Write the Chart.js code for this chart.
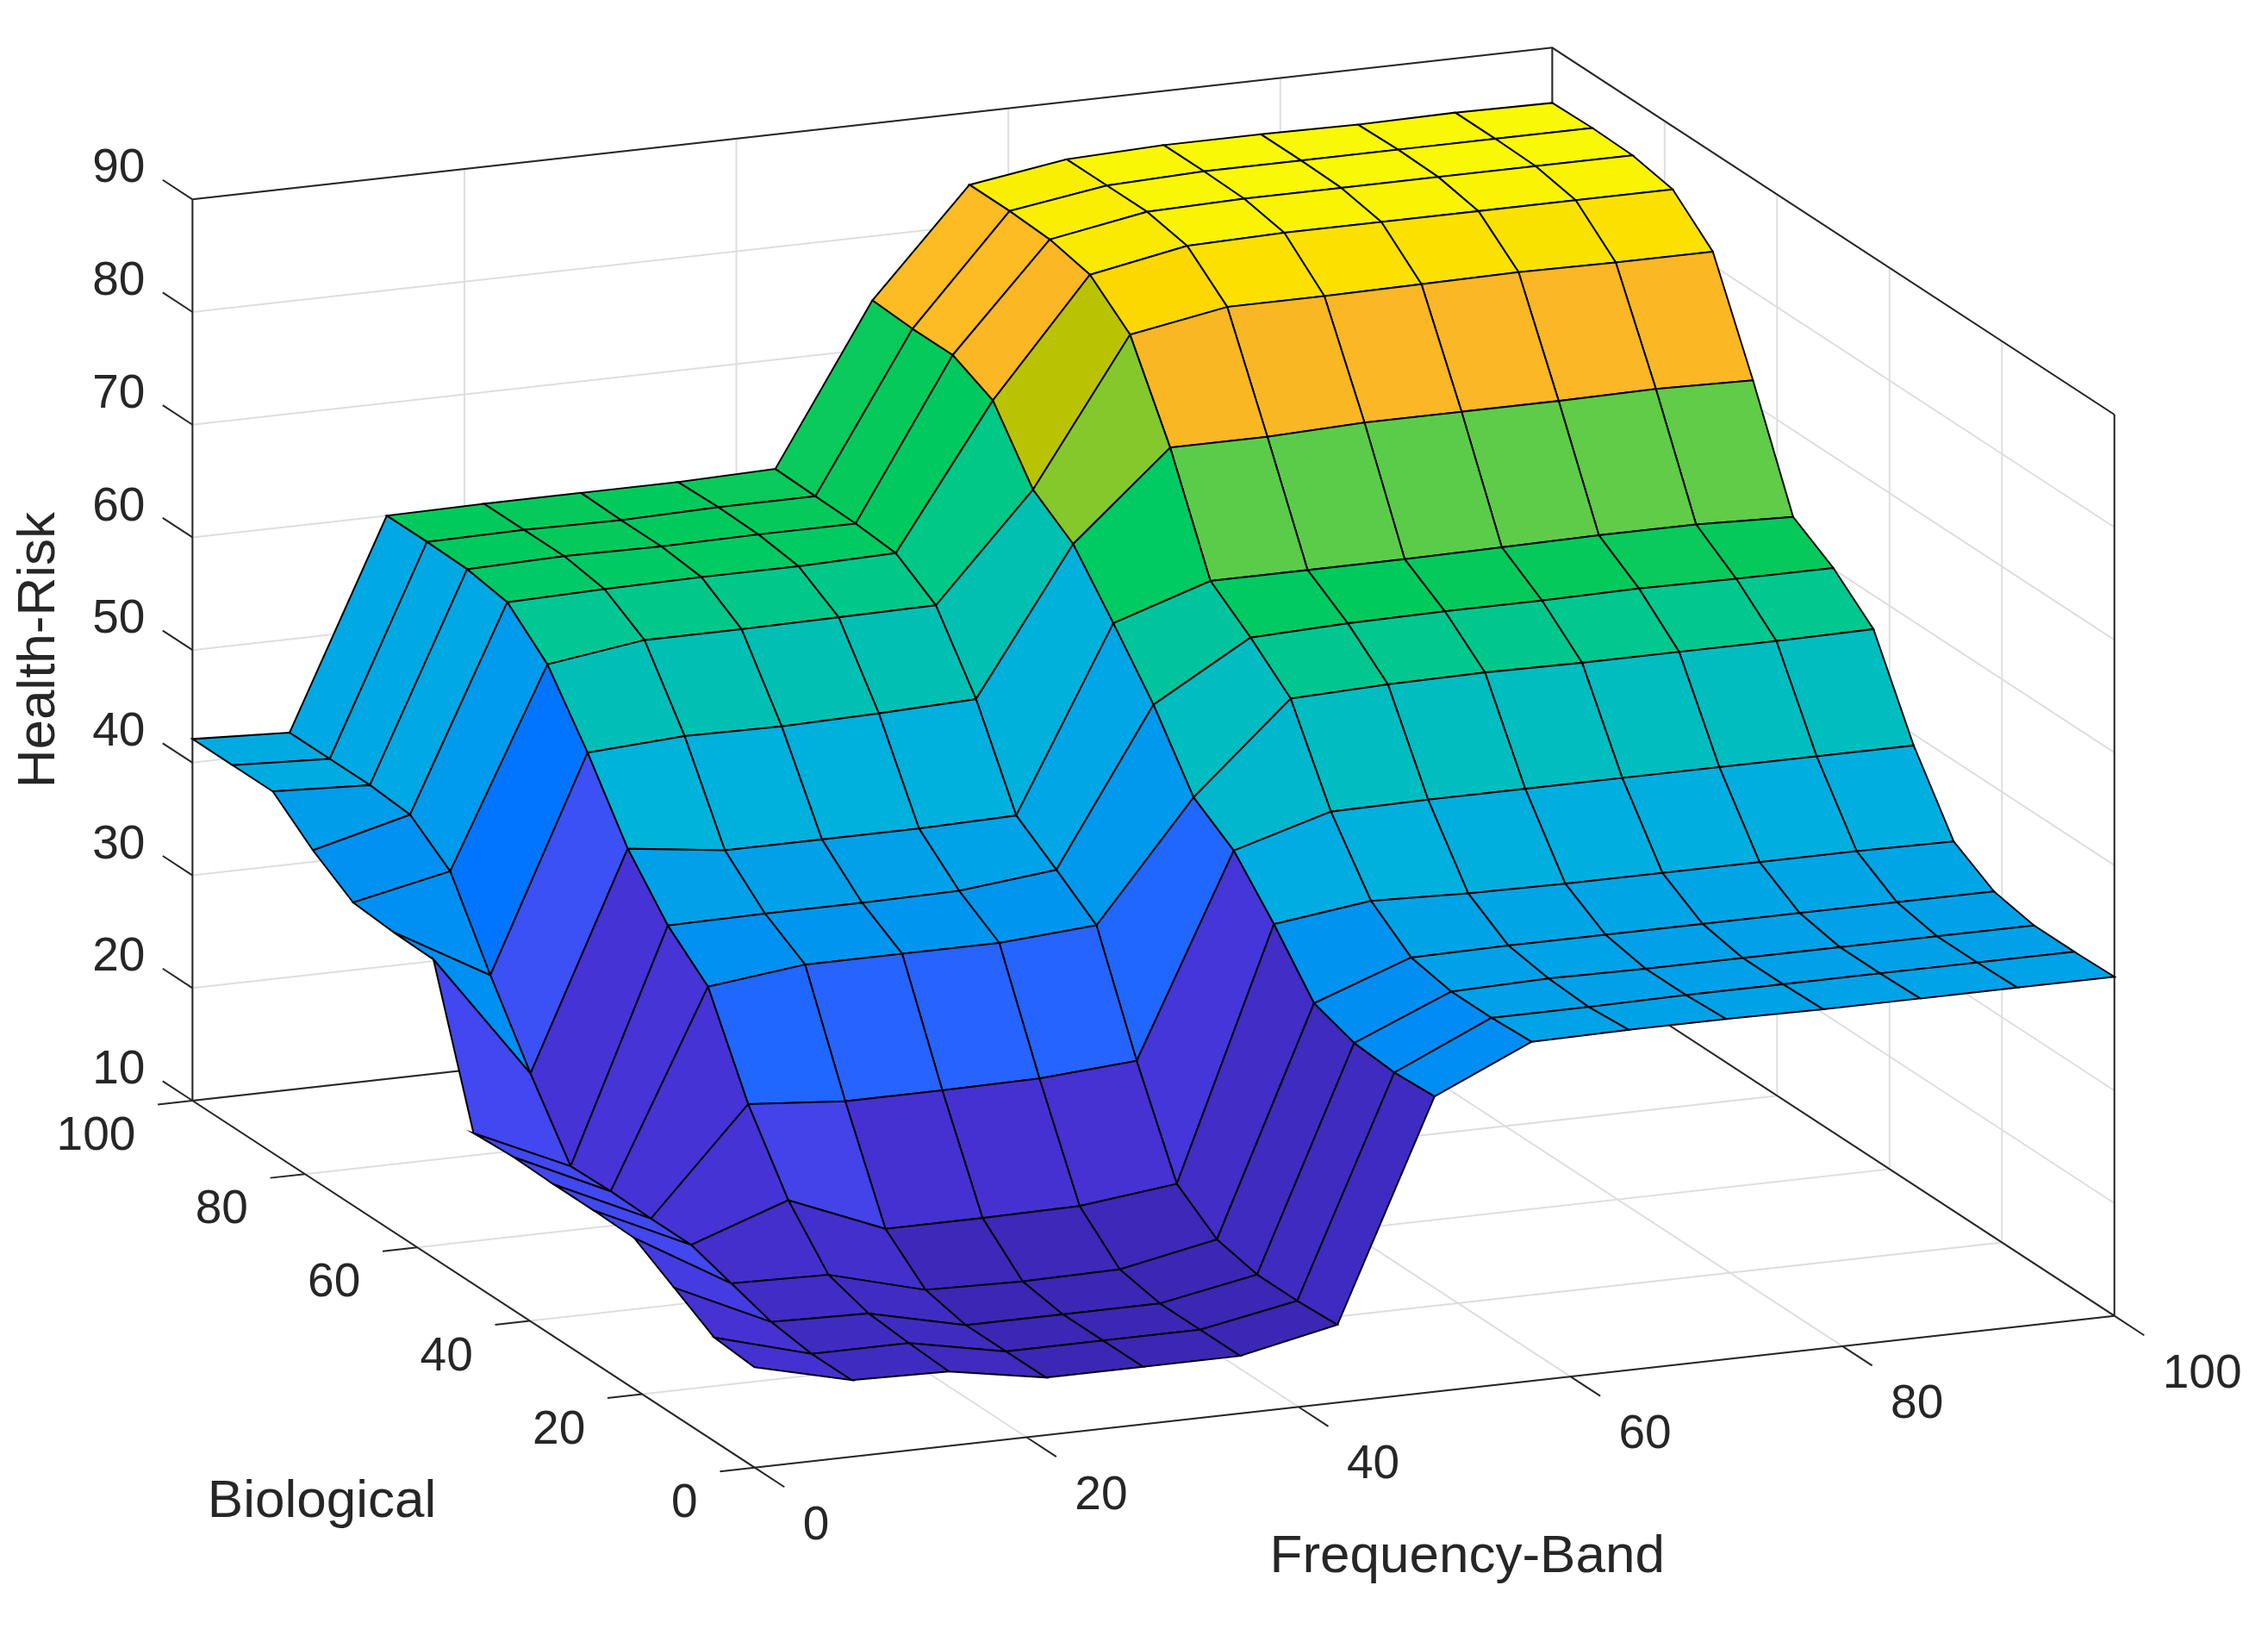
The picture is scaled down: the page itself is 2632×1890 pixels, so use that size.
<!DOCTYPE html>
<html>
<head>
<meta charset="utf-8">
<script src="https://cdn.jsdelivr.net/npm/chart.js@4.4.1/dist/chart.umd.min.js"></script>
<style>
  html, body { margin: 0; padding: 0; background: #ffffff; }
  canvas { display: block; }
</style>
</head>
<body>
<canvas id="surfChart" width="2632" height="1890"></canvas>
<script>
// grid of the surface (15 x 15 points)
const frequencyBand = [0, 7.14, 14.29, 21.43, 28.57, 35.71, 42.86, 50, 57.14, 64.29, 71.43, 78.57, 85.71, 92.86, 100];
const biological    = [0, 7.14, 14.29, 21.43, 28.57, 35.71, 42.86, 50, 57.14, 64.29, 71.43, 78.57, 85.71, 92.86, 100];

// Health-Risk, one row per Biological value, columns follow frequencyBand
const riskBio00 = [18.9, 16.8, 16.6, 15.1, 15.1, 15.1, 16.9, 36.2, 40.1, 40.2, 40.2, 40.1, 40.1, 40.1, 40.1];
const riskBio01 = [19.2, 16.8, 16.8, 15.1, 15.1, 15.1, 16.7, 36.0, 39.9, 39.9, 40.0, 40.0, 40.0, 40.0, 40.0];
const riskBio02 = [21.3, 17.3, 17.1, 15.1, 15.1, 15.1, 16.7, 36.3, 39.9, 40.1, 40.0, 40.0, 40.0, 40.0, 40.0];
const riskBio03 = [23.4, 18.4, 18.2, 15.9, 15.7, 15.8, 17.5, 37.5, 40.6, 40.7, 40.7, 40.7, 40.7, 40.7, 40.7];
const riskBio04 = [23.5, 19.5, 22.5, 19.0, 19.0, 19.1, 20.1, 42.2, 43.3, 43.0, 42.9, 42.9, 42.9, 42.9, 42.8];
const riskBio05 = [23.5, 19.5, 28.7, 28.0, 28.0, 28.1, 28.7, 46.4, 48.9, 49.0, 49.0, 49.0, 49.0, 49.0, 49.0];
const riskBio06 = [23.6, 19.6, 36.8, 37.8, 37.8, 37.8, 38.4, 48.8, 56.6, 56.9, 57.0, 56.9, 56.9, 56.9, 57.0];
const riskBio07 = [23.4, 19.5, 39.9, 40.0, 40.0, 40.1, 41.0, 54.7, 59.7, 60.0, 60.1, 60.1, 60.2, 60.1, 60.1];
const riskBio08 = [36.5, 25.4, 44.4, 43.3, 43.3, 43.3, 43.5, 59.6, 62.4, 62.4, 62.4, 62.5, 62.6, 62.6, 62.3];
const riskBio09 = [36.6, 31.8, 50.6, 51.1, 51.0, 51.2, 51.5, 64.3, 71.9, 71.9, 72.2, 72.2, 72.2, 72.3, 72.1];
const riskBio10 = [36.9, 38.7, 56.1, 57.3, 57.3, 57.4, 57.5, 66.8, 79.6, 81.1, 81.1, 81.2, 81.3, 81.2, 81.2];
const riskBio11 = [39.2, 41.4, 59.3, 59.5, 59.6, 59.6, 59.8, 72.4, 82.6, 84.2, 84.4, 84.4, 84.4, 84.4, 84.4];
const riskBio12 = [42.1, 41.7, 59.9, 60.1, 60.0, 60.1, 60.1, 74.1, 83.4, 84.9, 85.1, 85.1, 85.1, 85.1, 85.1];
const riskBio13 = [42.1, 41.7, 60.0, 60.1, 60.0, 60.2, 60.2, 74.1, 83.6, 84.9, 85.2, 85.2, 85.2, 85.2, 85.2];
const riskBio14 = [42.1, 41.7, 60.0, 60.1, 60.1, 60.1, 60.3, 74.3, 83.6, 84.9, 85.2, 85.2, 85.1, 85.2, 85.1];
const healthRisk = [riskBio00, riskBio01, riskBio02, riskBio03, riskBio04, riskBio05, riskBio06, riskBio07,
                    riskBio08, riskBio09, riskBio10, riskBio11, riskBio12, riskBio13, riskBio14];

const xTicks = [0, 20, 40, 60, 80, 100];
const yTicks = [0, 20, 40, 60, 80, 100];
const zTicks = [10, 20, 30, 40, 50, 60, 70, 80, 90];

// view (orthographic, like matlab view(az, el))
const AZ = -22.46 * Math.PI / 180;
const EL = 15.65 * Math.PI / 180;
const BOX = [1, 1, 0.636];
const X_LIM = [0, 100], Y_LIM = [0, 100], Z_LIM = [10, 90];

// parula-ish colormap as seen in the picture
const colorStops = [
  [0.000, 60, 38, 180], [0.060, 70, 50, 212], [0.120, 66, 72, 240], [0.150, 58, 82, 247],
  [0.185, 38, 100, 255], [0.240, 0, 118, 255], [0.310, 0, 145, 242], [0.360, 0, 163, 231],
  [0.400, 0, 176, 222], [0.490, 0, 190, 190], [0.600, 0, 200, 140], [0.640, 0, 202, 92],
  [0.675, 92, 204, 74], [0.700, 130, 200, 45], [0.740, 190, 195, 0], [0.780, 240, 185, 30],
  [0.820, 253, 183, 38], [0.860, 253, 190, 35], [0.920, 252, 215, 0], [0.950, 250, 228, 0],
  [1.000, 249, 249, 5]
];

function norm(x, y, z) {
  return [
    ((x - X_LIM[0]) / (X_LIM[1] - X_LIM[0]) - 0.5) * BOX[0],
    ((y - Y_LIM[0]) / (Y_LIM[1] - Y_LIM[0]) - 0.5) * BOX[1],
    ((z - Z_LIM[0]) / (Z_LIM[1] - Z_LIM[0]) - 0.5) * BOX[2]
  ];
}

function project(x, y, z) {
  const [nx, ny, nz] = norm(x, y, z);
  return {
    x: nx * Math.cos(AZ) + ny * Math.sin(AZ),
    y: -nx * Math.sin(AZ) * Math.sin(EL) + ny * Math.cos(AZ) * Math.sin(EL) + nz * Math.cos(EL)
  };
}

const allRisk = healthRisk.flat();
const cMin = Math.min(...allRisk), cMax = Math.max(...allRisk);

function colorFor(v) {
  const t = Math.max(0, Math.min(1, (v - cMin) / (cMax - cMin)));
  for (let k = 1; k < colorStops.length; k++) {
    const a = colorStops[k - 1], b = colorStops[k];
    if (t <= b[0]) {
      const f = (t - a[0]) / (b[0] - a[0]);
      const c = [1, 2, 3].map(n => Math.round(a[n] + (b[n] - a[n]) * f));
      return `rgb(${c[0]},${c[1]},${c[2]})`;
    }
  }
  const l = colorStops[colorStops.length - 1];
  return `rgb(${l[1]},${l[2]},${l[3]})`;
}

function lineSet(points, color, width, order) {
  return {
    data: points.map(p => project(p[0], p[1], p[2])),
    borderColor: color,
    borderWidth: width,
    pointRadius: 0,
    tension: 0,
    fill: false,
    order: order
  };
}

const datasets = [];
const GRID = '#dedede', AXIS = '#262626';

// back walls and floor grid
zTicks.forEach(z => datasets.push(lineSet([[0, 100, z], [100, 100, z], [100, 0, z]], GRID, 2, 3000)));
xTicks.forEach(x => datasets.push(lineSet([[x, 0, 10], [x, 100, 10], [x, 100, 90]], GRID, 2, 3000)));
yTicks.forEach(y => datasets.push(lineSet([[0, y, 10], [100, y, 10], [100, y, 90]], GRID, 2, 3000)));

// box edges (back style) and axis lines
datasets.push(lineSet([[0, 100, 90], [100, 100, 90], [100, 0, 90]], AXIS, 2, 2900));
datasets.push(lineSet([[0, 100, 10], [0, 100, 90]], AXIS, 2, 2900));
datasets.push(lineSet([[100, 100, 10], [100, 100, 90]], AXIS, 2, 2900));
datasets.push(lineSet([[100, 0, 10], [100, 0, 90]], AXIS, 2, 2900));
datasets.push(lineSet([[0, 100, 10], [100, 100, 10], [100, 0, 10]], AXIS, 2, 2900));
datasets.push(lineSet([[0, 100, 10], [0, 0, 10], [100, 0, 10]], AXIS, 2, 2900));

// tick marks
zTicks.forEach(z => datasets.push(lineSet([[0, 100, z], [0, 105.3, z]], AXIS, 2, 2800)));
yTicks.forEach(y => datasets.push(lineSet([[0, y, 10], [-2.55, y, 10]], AXIS, 2, 2800)));
xTicks.forEach(x => datasets.push(lineSet([[x, 0, 10], [x, -5.3, 10]], AXIS, 2, 2800)));

// surface patches, far to near (viewer sits at low x, low y)
let rank = 0;
for (let j = biological.length - 2; j >= 0; j--) {
  for (let i = frequencyBand.length - 2; i >= 0; i--) {
    const corners = [[i, j], [i + 1, j], [i + 1, j + 1], [i, j + 1], [i, j]];
    datasets.push({
      data: corners.map(([a, b]) => project(frequencyBand[a], biological[b], healthRisk[b][a])),
      backgroundColor: colorFor(healthRisk[j][i]),
      borderColor: '#000000',
      borderWidth: 2,
      pointRadius: 0,
      tension: 0,
      fill: 'shape',
      order: 2000 - rank
    });
    rank++;
  }
}

const axisText = {
  id: 'axisText',
  afterDatasetsDraw(chart) {
    const { ctx, scales: { x: sx, y: sy } } = chart;
    const toPx = (x, y, z) => {
      const p = project(x, y, z);
      return [sx.getPixelForValue(p.x), sy.getPixelForValue(p.y)];
    };
    ctx.save();
    ctx.fillStyle = '#262626';
    ctx.textBaseline = 'middle';
    ctx.font = '55px "Liberation Sans", Arial, Helvetica, sans-serif';

    ctx.textAlign = 'right';
    zTicks.forEach(z => {
      const [px, py] = toPx(0, 100, z);
      ctx.fillText(String(z), px - 55, py - 35);
    });
    yTicks.forEach(y => {
      const [px, py] = toPx(0, y, 10);
      ctx.fillText(String(y), px - 66, py + 42);
    });
    ctx.textAlign = 'left';
    xTicks.forEach(x => {
      const [px, py] = toPx(x, 0, 10);
      ctx.fillText(String(x), px + 56, py + 68);
    });

    ctx.font = '62px "Liberation Sans", Arial, Helvetica, sans-serif';
    ctx.textAlign = 'center';
    let [px, py] = toPx(50, 0, 10);
    ctx.fillText('Frequency-Band', px + 38, py + 192);
    [px, py] = toPx(0, 50, 10);
    ctx.fillText('Biological', px - 176, py + 253);
    [px, py] = toPx(0, 100, 50);
    ctx.save();
    ctx.translate(px - 177, py);
    ctx.rotate(-Math.PI / 2);
    ctx.fillText('Health-Risk', 0, 0);
    ctx.restore();
    ctx.restore();
  }
};

new Chart(document.getElementById('surfChart'), {
  type: 'line',
  data: { datasets },
  options: {
    responsive: false,
    animation: false,
    events: [],
    layout: { padding: 0 },
    plugins: { legend: { display: false }, tooltip: { enabled: false } },
    scales: {
      x: { type: 'linear', display: false, min: -0.7839, max: 0.7575 },
      y: { type: 'linear', display: false, min: -0.5921, max: 0.5148 }
    }
  },
  plugins: [axisText]
});
</script>
</body>
</html>
